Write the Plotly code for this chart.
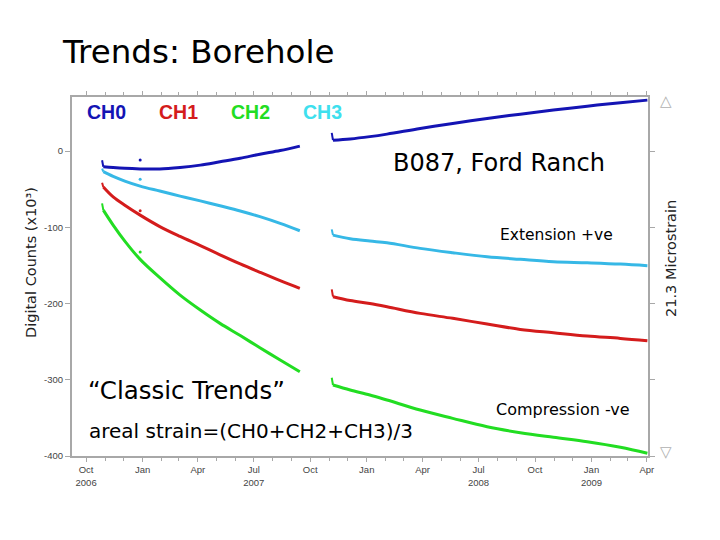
import plotly.graph_objects as go

# ---------------- data ----------------
channels = ["CH0", "CH1", "CH2", "CH3"]

dates_seg1 = ["2006-10-27", "2006-10-29", "2006-11-14", "2006-12-03", "2006-12-28",
              "2007-01-29", "2007-03-03", "2007-04-05", "2007-05-07", "2007-06-09",
              "2007-07-11", "2007-08-13", "2007-09-14"]
dates_seg2 = ["2007-11-05", "2007-11-07", "2007-12-05", "2008-01-06", "2008-02-03",
              "2008-03-28", "2008-05-20", "2008-07-15", "2008-09-07", "2008-10-31",
              "2008-12-25", "2009-02-17", "2009-04-02"]

ch0_seg1 = [-12, -20.5, -21.6, -22.6, -23.3, -23.5, -21.5, -18.4, -14, -9.4, -4.0, 0.8, 6.6]
ch0_seg2 = [24, 14.4, 16, 19, 22.3, 29.7, 36.3, 42.8, 48.5, 53.8, 59, 63.4, 66.9]

ch1_seg1 = [-41.5, -47, -60, -71, -84, -99, -112, -124, -136, -148, -159, -170, -180]
ch1_seg2 = [-181.4, -191, -196, -200, -204.2, -212.9, -219.4, -226.9, -233.9, -238.3, -242.6, -245.7, -248.8]

ch2_seg1 = [-68.6, -77.4, -97, -118, -142, -166, -188.9, -208.5, -226, -242, -258, -274, -289.4]
ch2_seg2 = [-297.3, -306.9, -313.4, -320, -326.6, -339.7, -350.6, -361.6, -369.4, -375.5, -381.3, -388.6, -396.5]

ch3_seg1 = [-23, -27, -33.2, -39.3, -45.9, -52.4, -59, -65.3, -71.7, -78.5, -86, -94.8, -104.5]
ch3_seg2 = [-102.7, -110.2, -115, -118, -120.2, -127.6, -133.3, -138.6, -142, -145.1, -146.5, -148.2, -150.4]

outlier_date = "2006-12-28"
outlier_values = {"CH0": -11.8, "CH1": -78.3, "CH2": -132.5, "CH3": -37}

x_tick_dates = ["2006-10-01", "2007-01-01", "2007-04-01", "2007-07-01", "2007-10-01",
                "2008-01-01", "2008-04-01", "2008-07-01", "2008-10-01", "2009-01-01",
                "2009-04-01"]
x_tick_labels = ["Oct<br>2006", "Jan", "Apr", "Jul<br>2007", "Oct", "Jan", "Apr",
                 "Jul<br>2008", "Oct", "Jan<br>2009", "Apr"]
y_tick_values = [0, -100, -200, -300, -400]
y_tick_labels = ["0", "-100", "-200", "-300", "-400"]

series = {
    "CH0": (ch0_seg1, ch0_seg2),
    "CH1": (ch1_seg1, ch1_seg2),
    "CH2": (ch2_seg1, ch2_seg2),
    "CH3": (ch3_seg1, ch3_seg2),
}

line_colors = {"CH0": "#1414b4", "CH1": "#d41c1c", "CH2": "#22dd22", "CH3": "#36b8e6"}
label_colors = {"CH0": "#1414b4", "CH1": "#d41c1c", "CH2": "#22dd22", "CH3": "#3ee0ee"}

# ---------------- figure ----------------
W, H = 720, 540
ML, MR, MT, MB = 72, 72, 97, 84
PW, PH = W - ML - MR, H - MT - MB


def px(x, y):
    return (x - ML) / PW, (H - MB - y) / PH


fig = go.Figure()

for ch in ["CH2", "CH1", "CH3", "CH0"]:
    s1, s2 = series[ch]
    for d, s in ((dates_seg1, s1), (dates_seg2, s2)):
        # short initial spike, then the smooth trend
        fig.add_trace(go.Scatter(
            x=d[:2], y=s[:2], mode="lines",
            line=dict(color=line_colors[ch], width=2),
            showlegend=False, hoverinfo="skip",
        ))
        fig.add_trace(go.Scatter(
            x=d[1:], y=s[1:], mode="lines",
            line=dict(color=line_colors[ch], width=3, shape="spline", smoothing=1.0),
            showlegend=False, hoverinfo="skip",
        ))
    fig.add_trace(go.Scatter(
        x=[outlier_date], y=[outlier_values[ch]], mode="markers",
        marker=dict(color=line_colors[ch], size=3),
        showlegend=False, hoverinfo="skip",
    ))

axis_col = "#a8a8a8"
tick_font = dict(family="Liberation Sans, Arial, sans-serif", size=9.5, color="#444444")

fig.update_xaxes(
    type="date",
    range=["2006-09-08", "2009-04-03"],
    tickmode="array", tickvals=x_tick_dates, ticktext=x_tick_labels,
    ticks="outside", ticklen=4, tickcolor=axis_col,
    showline=True, linecolor=axis_col, linewidth=2, mirror="ticks",
    showgrid=False, zeroline=False,
    tickfont=tick_font,
    minor=dict(dtick="M1", tick0="2006-09-01", ticks="outside", ticklen=3,
               tickcolor=axis_col, showgrid=False),
)
fig.update_yaxes(
    range=[-400, 71],
    tickmode="array", tickvals=y_tick_values, ticktext=y_tick_labels,
    ticks="outside", ticklen=5, tickcolor=axis_col,
    showline=True, linecolor=axis_col, linewidth=2, mirror="ticks",
    showgrid=False, zeroline=False,
    tickfont=tick_font,
)

ann = []
dv = "DejaVu Sans, Verdana, sans-serif"


def add_text(text, x, y, size, color="#000000", family=dv, xanchor="center",
             angle=0, bold=False):
    ax, ay = px(x, y)
    if bold:
        text = "<b>" + text + "</b>"
    ann.append(dict(text=text, x=ax, y=ay, xref="paper", yref="paper",
                    xanchor=xanchor, yanchor="middle", showarrow=False,
                    textangle=angle, font=dict(size=size, color=color, family=family)))


add_text("Trends: Borehole", 60, 52, 32.5, xanchor="left")
add_text("B087, Ford Ranch", 499, 163, 24)
add_text("Extension +ve", 556, 235, 15.5)
add_text("Compression -ve", 563, 409, 16)
add_text("\u201cClassic Trends\u201d", 86, 390, 24.5, xanchor="left")
add_text("areal strain=(CH0+CH2+CH3)/3", 87, 431, 20, xanchor="left")
add_text("Digital Counts (x10\u00b3)", 31, 263, 14.5, color="#222222", angle=-90)
add_text("21.3 Microstrain", 671, 259, 14.5, color="#222222", angle=-90)
add_text("\u25b3", 666, 101, 15, color="#b0b0b0")
add_text("\u25bd", 666, 452, 15, color="#b0b0b0")

label_x = {"CH0": 106.5, "CH1": 178, "CH2": 250.5, "CH3": 322.5}
for ch in channels:
    add_text(ch, label_x[ch], 112, 19.5, color=label_colors[ch],
             family="Liberation Sans, Arial, sans-serif", bold=True)

fig.update_layout(
    width=W, height=H,
    margin=dict(l=ML, r=MR, t=MT, b=MB),
    paper_bgcolor="white", plot_bgcolor="white",
    annotations=ann,
    showlegend=False,
)

fig.write_html("out.html")
